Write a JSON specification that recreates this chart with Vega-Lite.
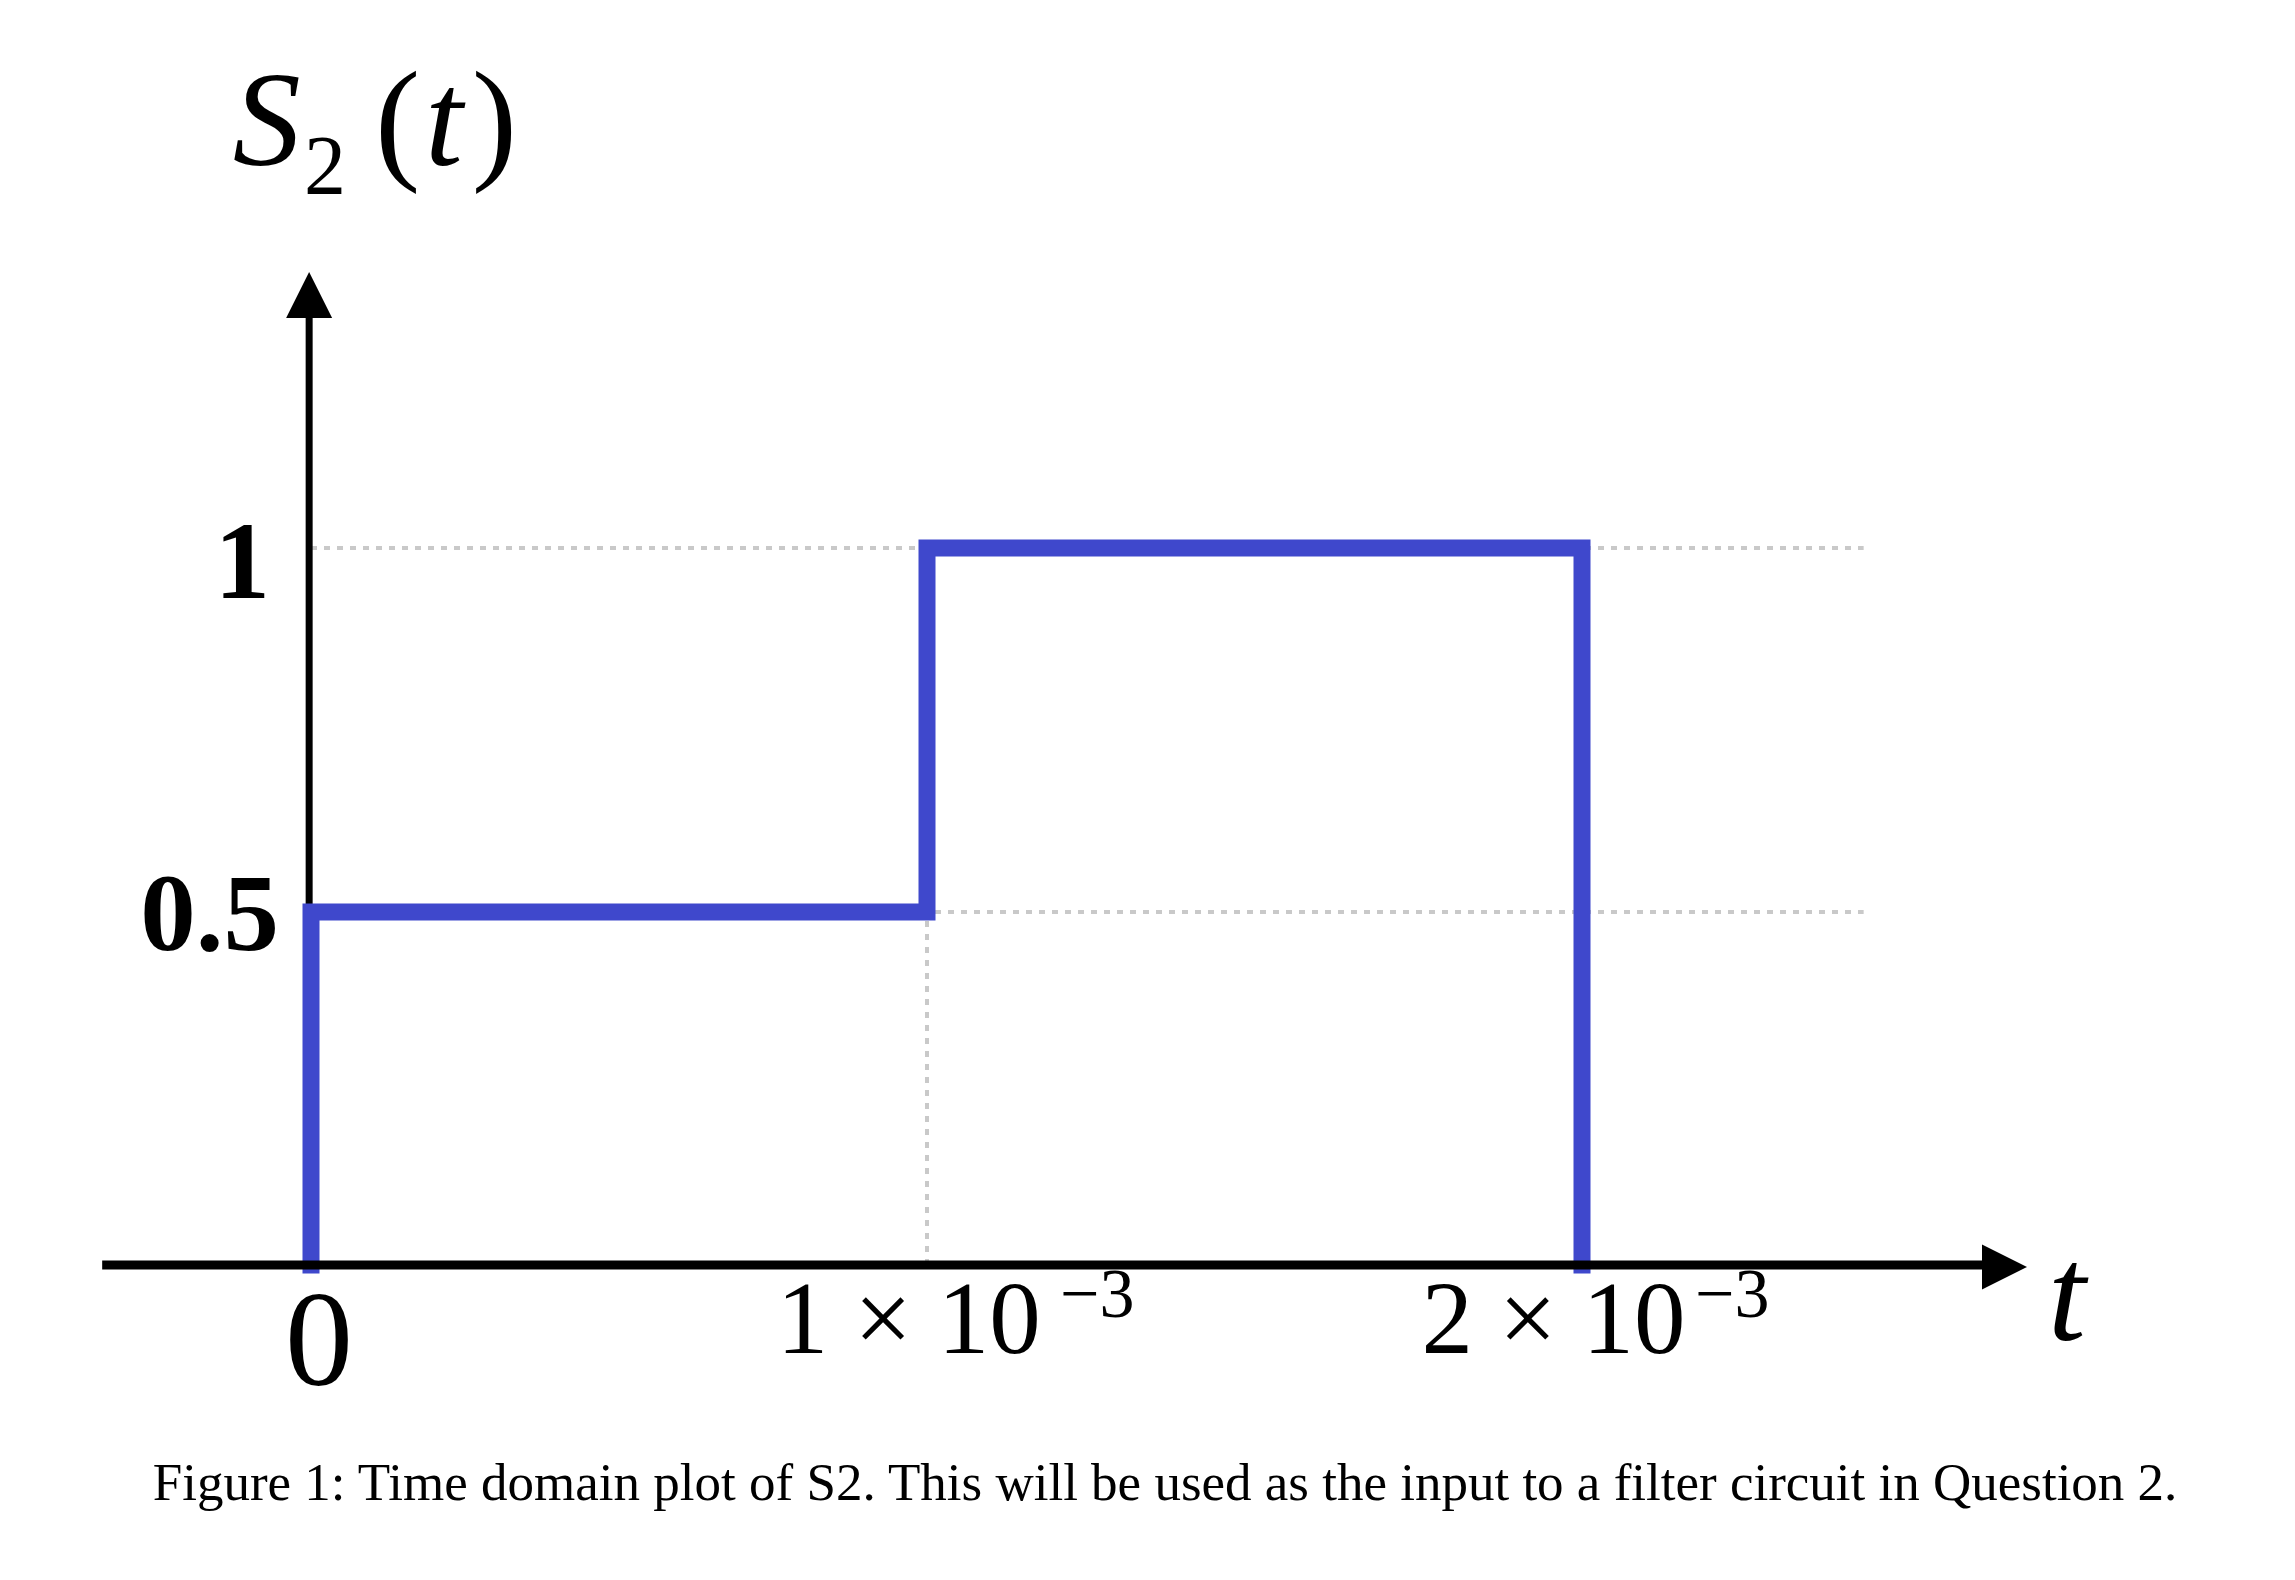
{
  "$schema": "https://vega.github.io/schema/vega-lite/v6.json",
  "width": 2295,
  "height": 1580,
  "autosize": "none",
  "padding": 0,
  "background": "white",
  "config": {"view": {"stroke": null}},
  "datasets": {
    "signal": [
      {"t": 0, "v": 0, "i": 1},
      {"t": 0, "v": 0.5, "i": 2},
      {"t": 0.001, "v": 0.5, "i": 3},
      {"t": 0.001, "v": 1, "i": 4},
      {"t": 0.002, "v": 1, "i": 5},
      {"t": 0.002, "v": 0, "i": 6}
    ],
    "grid": [
      {"t": 0, "t2": 0.00243, "v": 1, "v2": 1},
      {"t": 0, "t2": 0.00243, "v": 0.5, "v2": 0.5},
      {"t": 0.001, "t2": 0.001, "v": 0, "v2": 0.5}
    ],
    "xaxis": [
      {"t": -0.000339, "t2": 0.00262, "v": 0, "v2": 0}
    ],
    "yaxis": [
      {"t": -0.000003, "t2": -0.000003, "v": 0, "v2": 1.341}
    ],
    "arrowUp": [{"t": -0.000003, "v": 1.3475}],
    "arrowRight": [{"t": 0.002645, "v": -0.0028}],
    "bigNormal": [
      {"t": -0.0000422, "v": -0.17, "label": "0"},
      {"t": 0.000104, "v": 1.5261, "label": "("},
      {"t": 0.000261, "v": 1.5261, "label": ")"}
    ],
    "bigItalic": [
      {"t": -0.000127, "v": 1.5261, "label": "S"},
      {"t": 0.000185, "v": 1.5261, "label": "t"},
      {"t": 0.0027115, "v": -0.1062, "label": "t"}
    ],
    "sub": [{"t": -0.0000114, "v": 1.4863, "label": "2"}],
    "ticks": [
      {"t": 0.000756, "v": -0.1247, "label": "1 × 10"},
      {"t": 0.001755, "v": -0.1247, "label": "2 × 10"}
    ],
    "sups": [
      {"t": 0.001203, "v": -0.0737, "label": "−3"},
      {"t": 0.0021725, "v": -0.0737, "label": "−3"}
    ],
    "yticks": [
      {"t": -0.0000666, "v": 0.9313, "label": "1"},
      {"t": -0.0000519, "v": 0.4462, "label": "0.5"}
    ],
    "caption": [
      {"t": 0.0013634, "v": -0.3329, "label": "Figure 1: Time domain plot of S2. This will be used as the input to a filter circuit in Question 2."}
    ]
  },
  "encoding": {
    "x": {"field": "t", "type": "quantitative", "scale": {"domain": [0, 0.001, 0.002], "range": [311, 927, 1582], "zero": false, "nice": false}, "axis": null},
    "y": {"field": "v", "type": "quantitative", "scale": {"domain": [0, 0.5, 1], "range": [1265, 912, 548], "zero": false, "nice": false}, "axis": null}
  },
  "layer": [
    {
      "data": {"name": "grid"},
      "mark": {"type": "rule", "stroke": "#c9c9c9", "strokeWidth": 4, "strokeDash": [6, 7]},
      "encoding": {"x2": {"field": "t2"}, "y2": {"field": "v2"}}
    },
    {
      "data": {"name": "yaxis"},
      "mark": {"type": "rule", "stroke": "black", "strokeWidth": 7},
      "encoding": {"x2": {"field": "t2"}, "y2": {"field": "v2"}}
    },
    {
      "data": {"name": "signal"},
      "mark": {"type": "line", "stroke": "#3F48CC", "strokeWidth": 17, "strokeJoin": "miter", "strokeCap": "square"},
      "encoding": {"order": {"field": "i", "type": "quantitative"}}
    },
    {
      "data": {"name": "xaxis"},
      "mark": {"type": "rule", "stroke": "black", "strokeWidth": 9},
      "encoding": {"x2": {"field": "t2"}, "y2": {"field": "v2"}}
    },
    {
      "data": {"name": "arrowUp"},
      "mark": {"type": "point", "shape": "M-1,1L1,1L0,-1Z", "filled": true, "fill": "black", "strokeWidth": 0, "size": 2116, "opacity": 1}
    },
    {
      "data": {"name": "arrowRight"},
      "mark": {"type": "point", "shape": "M-1,-1L1,0L-1,1Z", "filled": true, "fill": "black", "strokeWidth": 0, "size": 2025, "opacity": 1}
    },
    {
      "data": {"name": "bigNormal"},
      "mark": {"type": "text", "font": "Liberation Serif", "fontSize": 136, "align": "left", "baseline": "alphabetic", "fill": "black"},
      "encoding": {"text": {"field": "label"}}
    },
    {
      "data": {"name": "bigItalic"},
      "mark": {"type": "text", "font": "Liberation Serif", "fontStyle": "italic", "fontSize": 136, "align": "left", "baseline": "alphabetic", "fill": "black"},
      "encoding": {"text": {"field": "label"}}
    },
    {
      "data": {"name": "sub"},
      "mark": {"type": "text", "font": "Liberation Serif", "fontSize": 84, "align": "left", "baseline": "alphabetic", "fill": "black"},
      "encoding": {"text": {"field": "label"}}
    },
    {
      "data": {"name": "ticks"},
      "mark": {"type": "text", "font": "Liberation Serif", "fontSize": 103, "align": "left", "baseline": "alphabetic", "fill": "black"},
      "encoding": {"text": {"field": "label"}}
    },
    {
      "data": {"name": "sups"},
      "mark": {"type": "text", "font": "Liberation Serif", "fontSize": 70, "align": "left", "baseline": "alphabetic", "fill": "black"},
      "encoding": {"text": {"field": "label"}}
    },
    {
      "data": {"name": "yticks"},
      "mark": {"type": "text", "font": "Liberation Serif", "fontWeight": "bold", "fontSize": 111, "align": "right", "baseline": "alphabetic", "fill": "black"},
      "encoding": {"text": {"field": "label"}}
    },
    {
      "data": {"name": "caption"},
      "mark": {"type": "text", "font": "Liberation Serif", "fontSize": 53, "align": "center", "baseline": "alphabetic", "fill": "black"},
      "encoding": {"text": {"field": "label"}}
    }
  ]
}
